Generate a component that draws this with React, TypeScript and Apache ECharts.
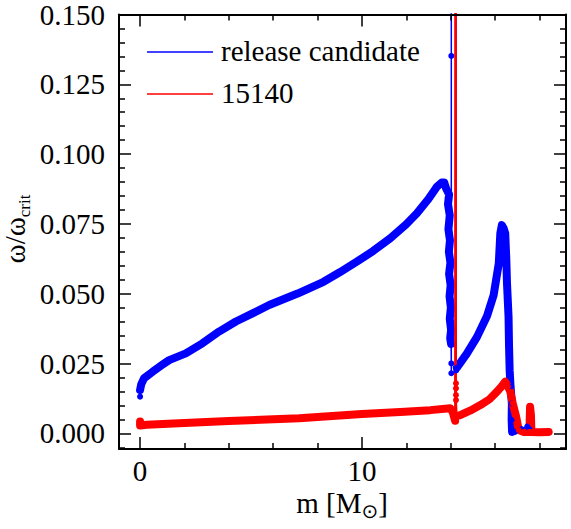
import React, { useEffect, useRef } from 'react';
import * as echarts from 'echarts';

// [m, omega/omega_crit]
const blueStart = [[0.0, 0.0131]];
const blueBandA = [
  [0.0, 0.0155], [0.05, 0.0175], [0.18, 0.0197], [0.56, 0.022], [1.0, 0.0245],
  [1.31, 0.0262], [2.06, 0.0286], [2.81, 0.0322], [3.56, 0.0364], [4.32, 0.04],
  [5.07, 0.0429], [5.82, 0.0459], [6.57, 0.0483], [7.1, 0.05], [7.6, 0.0518],
  [8.27, 0.0542], [9.0, 0.0576], [9.77, 0.0614], [10.5, 0.0652], [11.28, 0.0698],
  [12.0, 0.0748], [12.48, 0.0787], [13.0, 0.0838], [13.38, 0.0882], [13.6, 0.0897],
  [13.71, 0.0897], [13.8, 0.0875], [13.93, 0.0855], [13.88, 0.082], [13.96, 0.078],
  [13.9, 0.073], [13.97, 0.069], [13.92, 0.065], [13.99, 0.061], [13.93, 0.057],
  [14.0, 0.053], [13.95, 0.049], [14.01, 0.045], [13.96, 0.041], [14.02, 0.037],
  [13.98, 0.034], [14.02, 0.032],
];
const blueSpike = [
  [14.03, 0.025], [14.03, 0.0215], [14.03, 0.135], [14.03, 0.6], [14.23, 0.6], [14.25, 0.0225],
];
const blueBandB = [
  [14.28, 0.0235], [14.73, 0.0285], [15.19, 0.0345], [15.64, 0.042], [15.94, 0.0495],
  [16.17, 0.0608], [16.24, 0.0716], [16.31, 0.0745], [16.38, 0.0735], [16.46, 0.0716],
  [16.51, 0.062], [16.54, 0.0537], [16.61, 0.0417], [16.63, 0.032], [16.66, 0.0226],
  [16.7, 0.0167], [16.76, 0.0107], [16.75, 0.0048], [16.77, 0.0005],
];
const blueTail = [[16.9, 0.0005], [17.2, 0.0015], [17.45, 0.0024], [17.55, 0.0015]];

const redBandA = [
  [0.0, 0.0042], [0.0, 0.0028], [0.3, 0.0031], [2.0, 0.0037], [4.0, 0.0044],
  [7.17, 0.0054], [10.0, 0.0069], [11.73, 0.0076], [13.08, 0.0083], [13.98, 0.009],
  [14.1, 0.0075], [14.2, 0.0045],
];
const redSpike = [
  [14.22, 0.6], [14.24, 0.0179], [14.24, 0.0161], [14.24, 0.0137], [14.24, 0.0119], [14.27, 0.0065],
];
const redBandB = [
  [14.3, 0.0062], [14.43, 0.0065], [14.9, 0.0082], [15.34, 0.0101], [15.75, 0.0122],
  [16.09, 0.0149], [16.3, 0.0168], [16.46, 0.0185], [16.58, 0.0168], [16.69, 0.0149],
  [16.8, 0.0107], [16.95, 0.006], [17.07, 0.0012], [17.3, 0.0005], [17.55, 0.0005],
  [17.58, 0.0095], [17.62, 0.0065], [17.64, 0.0005], [18.0, 0.0004], [18.42, 0.0005],
];

const seriesNames = ['release candidate', '15140'];
const BLUE = '#0000ff';
const RED = '#ff0000';
const FONT = 'Liberation Serif';
const X_MIN = -0.95;
const X_MAX = 19.2;
const Y_MIN = -0.0056;
const Y_MAX = 0.15;

const isMultiple = (v: number, step: number) => Math.abs(v / step - Math.round(v / step)) < 1e-6;
const copy = (...parts: number[][][]) => parts.flat().map(p => [p[0], p[1]]);

const band = (data: number[][], color: string) => ({
  type: 'line',
  data: copy(data),
  symbol: 'none',
  silent: true,
  lineStyle: { color, width: 8, cap: 'round', join: 'round' },
  itemStyle: { color },
});

const thin = (name: string, data: number[][], color: string, width: number) => ({
  name,
  type: 'line',
  data,
  symbol: 'circle',
  symbolSize: 6,
  showSymbol: true,
  lineStyle: { color, width },
  itemStyle: { color },
});

const grid = { left: 119, right: 5, top: 14, bottom: 80, containLabel: false };
const serifRich = { t: { fontFamily: FONT, fontSize: 29, color: '#000' } };

const tick = () => ({ show: true, inside: true, length: 12, lineStyle: { color: '#000', width: 1.5 } });
const minor = () => ({ show: true, splitNumber: 5, length: 6, lineStyle: { color: '#000', width: 1.5 } });
const frame = () => ({ show: true, onZero: false, lineStyle: { color: '#000', width: 2 } });

const xAxisOf = (position: string, label: any) => ({
  type: 'value', position, min: X_MIN, max: X_MAX, minInterval: 10, maxInterval: 10,
  axisLine: frame(), axisTick: tick(), minorTick: minor(),
  splitLine: { show: false }, minorSplitLine: { show: false }, axisLabel: label,
});
const yAxisOf = (position: string, label: any) => ({
  type: 'value', position, min: Y_MIN, max: Y_MAX, minInterval: 0.025, maxInterval: 0.025,
  axisLine: frame(), axisTick: tick(), minorTick: minor(),
  splitLine: { show: false }, minorSplitLine: { show: false }, axisLabel: label,
});

const layer: React.CSSProperties = { position: 'absolute', left: 0, top: 0, width: 571, height: 529 };

const App: React.FC = () => {
  const dataRef = useRef<HTMLDivElement>(null);
  const axesRef = useRef<HTMLDivElement>(null);
  const textRef = useRef<HTMLDivElement>(null);
  const diagRef = useRef<HTMLPreElement>(null);

  useEffect(() => {
    if (!dataRef.current || !axesRef.current || !textRef.current) return;
    const errs: string[] = [];
    const onErr = (e: ErrorEvent) => { errs.push(String(e.message)); };
    window.addEventListener('error', onErr);

    const dataChart = echarts.init(dataRef.current, null, { renderer: 'svg' });
    const axesChart = echarts.init(axesRef.current, null, { renderer: 'svg' });
    const textChart = echarts.init(textRef.current, null, { renderer: 'svg' });

    const run = (label: string, fn: () => void) => {
      try { fn(); } catch (e: any) { errs.push(label + ': ' + e.message); }
    };

    // series drawn through hidden axes with the same grid and ranges
    run('data', () => dataChart.setOption({
      animation: false,
      grid,
      xAxis: { type: 'value', min: X_MIN, max: X_MAX, show: false },
      yAxis: { type: 'value', min: Y_MIN, max: Y_MAX, show: false },
      series: [
        band(blueBandA, BLUE),
        band(blueBandB, BLUE),
        thin(seriesNames[0], copy(blueStart, blueBandA, blueSpike, blueBandB, blueTail), BLUE, 1.5),
        band(redBandA, RED),
        band(redBandB, RED),
        thin(seriesNames[1], copy(redBandA, redSpike, redBandB), RED, 2),
      ],
    }));

    // visible frame, ticks and tick labels
    run('axes', () => axesChart.setOption({
      animation: false,
      grid,
      xAxis: [
        xAxisOf('bottom', {
          margin: 7, rich: serifRich,
          formatter: (v: number) => (isMultiple(v, 10) ? `{t|${Math.round(v)}}` : ''),
        }),
        xAxisOf('top', { show: false }),
      ],
      yAxis: [
        yAxisOf('left', {
          margin: 14, rich: serifRich,
          formatter: (v: number) => (isMultiple(v, 0.025) ? `{t|${v.toFixed(3)}}` : ''),
        }),
        yAxisOf('right', { show: false }),
      ],
    }));

    // legend entries and axis names
    run('text', () => textChart.setOption({
      animation: false,
      graphic: [
        { type: 'line', shape: { x1: 147, y1: 52, x2: 213, y2: 52 }, style: { stroke: BLUE, lineWidth: 1.5 } },
        { type: 'line', shape: { x1: 147, y1: 94, x2: 213, y2: 94 }, style: { stroke: RED, lineWidth: 1.5 } },
        {
          type: 'text', x: 221, y: 51,
          style: { text: `{t|${seriesNames[0]}}`, verticalAlign: 'middle', rich: { t: { fontFamily: FONT, fontSize: 29, fill: '#000' } } },
        },
        {
          type: 'text', x: 221, y: 93,
          style: { text: `{t|${seriesNames[1]}}`, verticalAlign: 'middle', rich: { t: { fontFamily: FONT, fontSize: 29, fill: '#000' } } },
        },
        {
          type: 'text', x: 342, y: 503,
          style: {
            text: '{a|m [M}{b|⊙}{a|]}',
            align: 'center', verticalAlign: 'middle',
            rich: {
              a: { fontSize: 29, fontFamily: FONT, lineHeight: 36, fill: '#000' },
              b: { fontSize: 20, fontFamily: 'DejaVu Sans', lineHeight: 18, verticalAlign: 'bottom', fill: '#000' },
            },
          },
        },
        {
          type: 'text', x: 15, y: 229, rotation: Math.PI / 2,
          style: {
            text: '{a|ω/ω}{b|crit}',
            align: 'center', verticalAlign: 'middle',
            rich: {
              a: { fontSize: 29, fontFamily: FONT, lineHeight: 36, fill: '#000' },
              b: { fontSize: 17, fontFamily: FONT, lineHeight: 18, verticalAlign: 'bottom', fill: '#000' },
            },
          },
        },
      ],
    }));

    // report only when something went wrong
    const report = () => {
      const paths = axesRef.current ? axesRef.current.querySelectorAll('path').length : -1;
      if (errs.length || paths < 20) {
        const first = axesRef.current?.querySelector('text')?.getAttribute('style') || '';
        if (diagRef.current) diagRef.current.textContent = ['paths ' + paths, first, ...errs].join('\n');
      }
    };
    report();
    const timer = window.setTimeout(report, 200);

    return () => {
      window.clearTimeout(timer);
      window.removeEventListener('error', onErr);
      dataChart.dispose();
      axesChart.dispose();
      textChart.dispose();
    };
  }, []);

  return (
    <div style={{ position: 'fixed', left: 0, top: 0, width: 571, height: 529, background: '#fff' }}>
      <div ref={dataRef} style={layer} />
      <div ref={axesRef} style={{ ...layer, pointerEvents: 'none' }} />
      <div ref={textRef} style={{ ...layer, pointerEvents: 'none' }} />
      <pre ref={diagRef} style={{ position: 'absolute', left: 300, top: 110, fontSize: 9, margin: 0, whiteSpace: 'pre-wrap', width: 260 }} />
    </div>
  );
};

export default App;
